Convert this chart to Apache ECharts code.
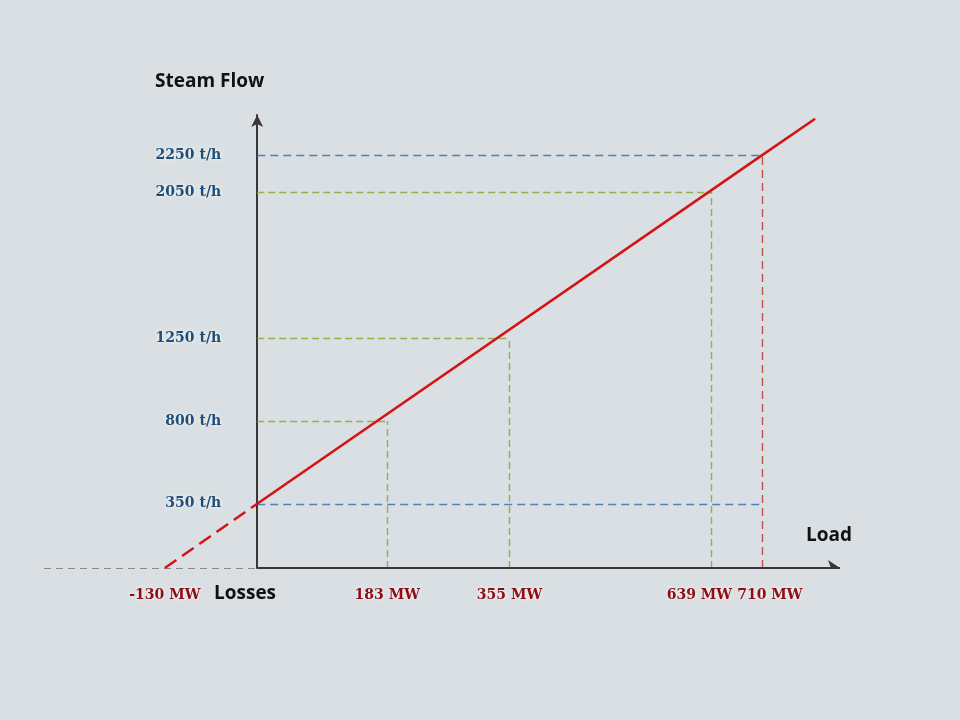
<!DOCTYPE html>
<html>
<head>
<meta charset="utf-8">
<title>Steam Flow vs Load</title>
<script src="https://cdn.jsdelivr.net/npm/echarts@6/dist/echarts.min.js"></script>
<style>
  html, body { margin: 0; padding: 0; background: #d9dfe2; }
  #chart { width: 960px; height: 720px; }
</style>
</head>
<body>
<div id="chart"></div>
<script>
// Operating points: load (MW) and the matching steam flow (t/h)
const pointLoad = [183, 355, 639];
const pointFlow = [800, 1250, 2050];

// Characteristic values of the unit
const lossLoad = -130;      // load at zero steam flow (losses)
const noLoadFlow = 350;     // steam flow at zero load
const ratedLoad = 710;      // rated load
const ratedFlow = 2250;     // steam flow at rated load
const arrowLoad = 785;      // end of the drawn characteristic
const arrowFlow = 2450;

// Axis extents and labelled ticks
const xMin = -300, xMax = 820;
const yMin = 0, yMax = 2470;
const xTicks = [-130, 183, 355, 639, 710];
const yTicks = [350, 800, 1250, 2050, 2250];
// small sideways nudges keep the two close load labels apart
const xTickNudge = [0, 0, 0, -12, 8];

// Plot box in pixels
const gridLeft = 44, gridRight = 120, gridTop = 115, gridBottom = 152;
const plotWidth = 960 - gridLeft - gridRight;
// the flow axis is drawn at zero load, inside the plot box
const yAxisShift = plotWidth * (0 - xMin) / (xMax - xMin);

const labelFont = '"DejaVu Serif", "Liberation Serif", serif';
const headFont = '"Open Sans", "Liberation Sans", sans-serif';
const glow = { textShadowColor: 'rgba(255,255,255,0.95)', textShadowBlur: 4 };

const green = '#8fb24a', blue = '#4f81bd', darkRed = '#c0504d', red = '#d41414', axisColor = '#3b3535';

function seg(a, b) { return { coords: [a, b] }; }

const greenLines = [];
pointLoad.forEach((x, i) => {
  greenLines.push(seg([0, pointFlow[i]], [x, pointFlow[i]]));
  greenLines.push(seg([x, 0], [x, pointFlow[i]]));
});

const chart = echarts.init(document.getElementById('chart'));
chart.setOption({
  backgroundColor: '#d9dfe2',
  animation: false,
  grid: { left: gridLeft, right: gridRight, top: gridTop, bottom: gridBottom,
          containLabel: false, outerBoundsMode: 'none' },
  xAxis: {
    type: 'value', min: xMin, max: xMax,
    axisLine: { show: false },
    axisTick: { show: false },
    splitLine: { show: false },
    axisLabel: { show: false }
  },
  yAxis: {
    type: 'value', min: yMin, max: yMax,
    offset: -yAxisShift,
    axisLine: { show: true, onZero: false, symbol: ['none', 'arrow'], symbolSize: [9, 12],
      lineStyle: { color: axisColor, width: 2 } },
    axisTick: { show: false },
    splitLine: { show: false },
    axisLabel: {
      customValues: yTicks, margin: 36, hideOverlap: false,
      formatter: v => v + ' t/h',
      color: '#1f4e79', fontFamily: labelFont, fontWeight: 'bold', fontSize: 14, ...glow
    }
  },
  graphic: [
    { type: 'text', left: 155, top: 72, style: { text: 'Steam Flow', font: 'bold 19px ' + headFont, fill: '#111' } },
    { type: 'text', left: 806, top: 526, style: { text: 'Load', font: 'bold 19px ' + headFont, fill: '#111' } },
    { type: 'text', left: 214, top: 584, style: { text: 'Losses', font: 'bold 19px ' + headFont, fill: '#111' } }
  ],
  series: [
    { // load axis, solid with arrow for positive load
      type: 'lines', coordinateSystem: 'cartesian2d', z: 3,
      symbol: ['none', 'arrow'], symbolSize: [9, 12],
      lineStyle: { color: axisColor, width: 2, opacity: 1 },
      data: [seg([0, 0], [xMax, 0])]
    },
    { // load axis on the losses side
      type: 'lines', coordinateSystem: 'cartesian2d', z: 3,
      lineStyle: { color: axisColor, width: 1.2, type: [7, 5], opacity: 1 },
      data: [seg([xMin, 0], [0, 0])]
    },
    { // operating point guides
      type: 'lines', coordinateSystem: 'cartesian2d', z: 2,
      lineStyle: { color: green, width: 1.4, type: [7, 4], opacity: 1 },
      data: greenLines
    },
    { // no-load and rated flow levels
      type: 'lines', coordinateSystem: 'cartesian2d', z: 2,
      lineStyle: { color: blue, width: 1.4, type: [8, 5], opacity: 1 },
      data: [seg([0, noLoadFlow], [ratedLoad, noLoadFlow]), seg([0, ratedFlow], [ratedLoad, ratedFlow])]
    },
    { // rated load
      type: 'lines', coordinateSystem: 'cartesian2d', z: 2,
      lineStyle: { color: darkRed, width: 1.4, type: [8, 5], opacity: 1 },
      data: [seg([ratedLoad, 0], [ratedLoad, ratedFlow])]
    },
    { // characteristic below zero load
      type: 'lines', coordinateSystem: 'cartesian2d', z: 4,
      lineStyle: { color: red, width: 2.5, type: [14, 7], opacity: 1 },
      data: [seg([lossLoad, 0], [0, noLoadFlow])]
    },
    { // steam flow characteristic
      type: 'lines', coordinateSystem: 'cartesian2d', z: 4, polyline: true,
      symbol: ['none', 'arrow'], symbolSize: 12,
      lineStyle: { color: red, width: 2.5, opacity: 1 },
      data: [{ coords: [[0, noLoadFlow], [ratedLoad, ratedFlow], [arrowLoad, arrowFlow]] }]
    },
    { // load tick labels under the axis
      type: 'scatter', z: 5, symbolSize: 1, silent: true,
      itemStyle: { color: 'rgba(0,0,0,0)', opacity: 1 },
      emphasis: { disabled: true },
      label: {
        show: true, position: 'bottom', distance: 20,
        formatter: p => p.value[0] + ' MW',
        color: '#8e0c14', fontFamily: labelFont, fontWeight: 'bold', fontSize: 14, ...glow
      },
      data: xTicks.map((v, i) => ({ value: [v, 0], label: { offset: [xTickNudge[i], 0] } }))
    }
  ]
});
</script>
</body>
</html>
